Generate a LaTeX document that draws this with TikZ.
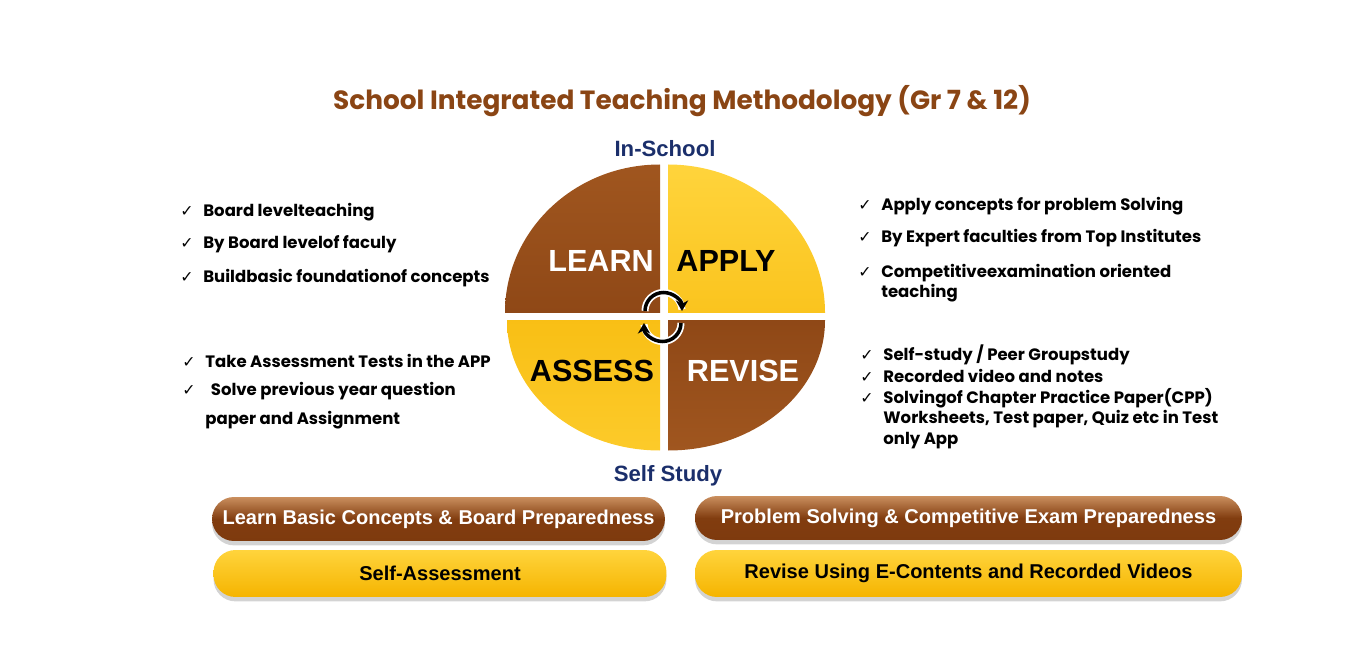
\documentclass[tikz,border=0pt]{standalone}
\usepackage{fontspec}
\setmainfont{Poppins}
\newfontfamily\arialfont{Liberation Sans}
\newfontfamily\tickfont{DejaVu Sans}
\usetikzlibrary{positioning,arrows.meta,shadows}

\definecolor{titlebrown}{HTML}{8A4514}
\definecolor{navy}{HTML}{1B2F6B}
\definecolor{darkbrown}{HTML}{7E3A0E}
\definecolor{lightbrown}{HTML}{A0561F}
\definecolor{gold}{HTML}{F5B400}
\definecolor{lightgold}{HTML}{FFD43C}

% check mark item, optional argument = line spacing
\newcommand{\chk}[2][11.9pt]{\makebox[0.46cm][l]{\tickfont\fontsize{9pt}{9pt}\selectfont ✓}%
  \parbox[t]{8cm}{\raggedright\fontsize{9.4pt}{#1}\selectfont #2}}

\begin{document}
\begin{tikzpicture}[x=0.02cm,y=-0.02cm]
    \newcommand{\cx}{664}
    \newcommand{\cy}{316.5}
    \newcommand{\gap}{4}

    % set the styles
    \tikzset{
        title/.style={font=\bfseries\fontsize{15pt}{18pt}\selectfont, text=titlebrown},
        side/.style={font=\arialfont\bfseries\fontsize{12.6pt}{14pt}\selectfont, text=navy},
        quad/.style={font=\arialfont\bfseries\fontsize{17.4pt}{20pt}\selectfont},
        item/.style={anchor=base west, inner sep=0pt, font=\bfseries},
        pill/.style={rounded corners=0.44cm, minimum height=0.88cm, inner sep=0pt,
            font=\arialfont\bfseries\fontsize{11.4pt}{13pt}\selectfont,
            drop shadow={shadow xshift=0pt, shadow yshift=-2.5pt, opacity=0.35}},
        brownpill/.style={pill, top color=lightbrown!80!orange!70!white, bottom color=darkbrown,
            middle color=darkbrown!90!lightbrown, text=white},
        goldpill/.style={pill, top color=lightgold, bottom color=gold, text=black}
    }

    \useasboundingbox (0,0) rectangle (1352,672);

    % headings
    \node[title] (title) at (682,101) {School Integrated Teaching Methodology (Gr 7 \& 12)};
    \node[side] (inschool) at (665,149) {In-School};
    \node[side] (selfstudy) at (668,476) {Self Study};

    % quadrants
    \begin{scope}
        \clip (\cx-\gap,\cy-\gap) rectangle (480,150);
        \shade[top color=lightbrown, bottom color=darkbrown] (\cx-\gap,\cy-\gap) ellipse [x radius=155, y radius=148];
    \end{scope}
    \begin{scope}
        \clip (\cx+\gap,\cy-\gap) rectangle (850,150);
        \shade[top color=lightgold, bottom color=gold] (\cx+\gap,\cy-\gap) ellipse [x radius=157, y radius=148];
    \end{scope}
    \begin{scope}
        \clip (\cx-\gap,\cy+\gap) rectangle (480,470);
        \shade[top color=gold, bottom color=lightgold!70!gold] (\cx-\gap,\cy+\gap) ellipse [x radius=153, y radius=130];
    \end{scope}
    \begin{scope}
        \clip (\cx+\gap,\cy+\gap) rectangle (850,470);
        \shade[top color=darkbrown, bottom color=lightbrown] (\cx+\gap,\cy+\gap) ellipse [x radius=157, y radius=130];
    \end{scope}

    \node[quad, text=white] (learn) at (601,261) {LEARN};
    \node[quad, text=black] (apply) at (726,261) {APPLY};
    \node[quad, text=black] (assess) at (592,371) {ASSESS};
    \node[quad, text=white] (revise) at (743,371) {REVISE};

    % arrows
    \draw[white, line width=4pt] (645,311) arc[start angle=180, end angle=355, radius=18.5];
    \draw[black, line width=2pt, -{Stealth[length=6pt,width=7pt]}] (645,311) arc[start angle=180, end angle=360, radius=18.5];
    \draw[white, line width=4pt] (681,323) arc[start angle=0, end angle=175, radius=18.5];
    \draw[black, line width=2pt, -{Stealth[length=6pt,width=7pt]}] (681,323) arc[start angle=0, end angle=180, radius=18.5];

    % left items
    \node[item] (l1) at (180,216) {\chk{Board levelteaching}};
    \node[item] (l2) at (180,249) {\chk{By Board levelof faculy}};
    \node[item] (l3) at (180,282) {\chk{Buildbasic foundationof concepts}};
    \node[item] (l4) at (182,367) {\chk{Take Assessment Tests in the APP}};
    \node[item] (l5) at (182,395) {\chk[17pt]{\,\,Solve previous year question\\paper and Assignment}};

    % right items
    \node[item] (r1) at (858,211) {\chk{Apply concepts for problem Solving}};
    \node[item] (r2) at (858,243) {\chk{By Expert faculties from Top Institutes}};
    \node[item] (r3) at (858,277) {\chk{Competitiveexamination oriented\\teaching}};
    \node[item] (r4) at (860,360) {\chk{Self-study / Peer Groupstudy}};
    \node[item] (r5) at (860,382) {\chk{Recorded video and notes}};
    \node[item] (r6) at (860,403) {\chk{Solvingof Chapter Practice Paper(CPP)\\Worksheets, Test paper, Quiz etc in Test\\only App}};

    % bottom bars
    \node[brownpill, minimum width=9.06cm] (learnbar) at (438.5,519) {Learn Basic Concepts \& Board Preparedness};
    \node[brownpill, minimum width=10.94cm] (solvebar) at (968.5,518) {Problem Solving \& Competitive Exam Preparedness};
    \node[goldpill, minimum width=9.06cm, minimum height=0.94cm] (assessbar) at (440,573.5) {Self-Assessment};
    \node[goldpill, minimum width=10.94cm, minimum height=0.94cm] (revisebar) at (968.5,573.5) {Revise Using E-Contents and Recorded Videos};
\end{tikzpicture}
\end{document}
